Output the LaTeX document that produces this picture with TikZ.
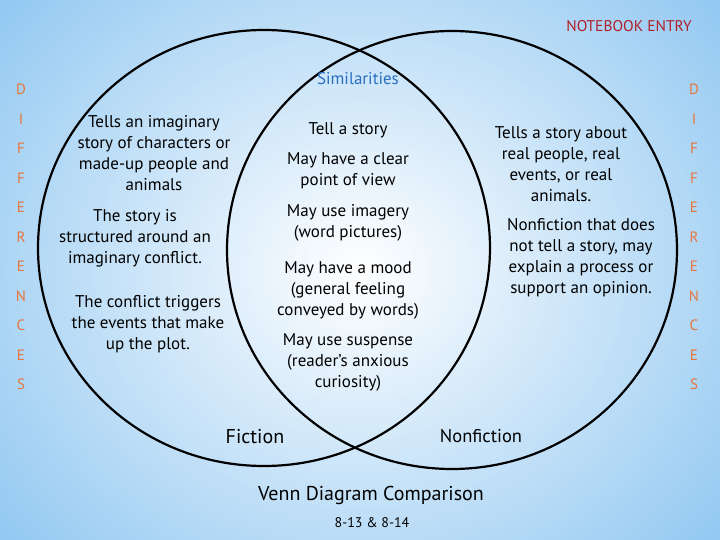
\documentclass[tikz,border=0pt]{standalone}
\usepackage{fontspec}
\setmainfont{PT Sans}
\definecolor{bgblue}{HTML}{72B8EE}
\definecolor{orng}{HTML}{E8743B}
\definecolor{simblue}{HTML}{2A6FBF}
\definecolor{nbred}{HTML}{B0202A}
\begin{document}
\begin{tikzpicture}[x=1pt,y=-1pt,
  txt/.style={align=center,font=\fontsize{17}{21}\selectfont,inner sep=0pt},
  lbl/.style={font=\fontsize{20}{22}\selectfont,inner sep=0pt},
  side/.style={orng,align=center,font=\fontsize{15}{29.5}\selectfont,inner sep=0pt},
  venn/.style={draw=black,line width=2.2pt}]
\useasboundingbox (0,0) rectangle (720,540);
\shade[inner color=white,outer color=bgblue] (-100,-140) rectangle (820,680);
\fill[white,opacity=0.25] (0,0) rectangle (720,540);
\draw[venn] (264,248) ellipse [x radius=226,y radius=218];
\draw[venn] (452,250) ellipse [x radius=225,y radius=219];
\node[font=\fontsize{15.5}{16}\selectfont,text=nbred,inner sep=0pt] (nb) at (629,26) {NOTEBOOK ENTRY};
\node[side] (dl) at (21,237) {D\\I\\F\\F\\E\\R\\E\\N\\C\\E\\S};
\node[side] (dr) at (694,237) {D\\I\\F\\F\\E\\R\\E\\N\\C\\E\\S};
\node[txt,text=simblue] (sim) at (358,79) {Similarities};
\node[txt] (c1) at (348,130) {Tell a story};
\node[txt] (c2) at (348,171) {May have a clear\\point of view};
\node[txt] (c3) at (348,223) {May use imagery\\(word pictures)};
\node[txt] (c4) at (348,290) {May have a mood\\(general feeling\\conveyed by words)};
\node[txt] (c5) at (348,362) {May use suspense\\(reader’s anxious\\curiosity)};
\node[txt] (l1) at (154,153) {Tells an imaginary\\story of characters or\\made-up people and\\animals};
\node[txt] (l2) at (135,238) {The story is\\structured around an\\imaginary conflict.};
\node[txt] (l3) at (148,324) {The conflict triggers\\the events that make\\up the plot.};
\node[txt] (r1) at (561,164) {Tells a story about\\real people, real\\events, or real\\animals.};
\node[txt] (r2) at (581,258) {Nonfiction that does\\not tell a story, may\\explain a process or\\support an opinion.};
\node[lbl] (fic) at (255,437) {Fiction};
\node[font=\fontsize{18.5}{20}\selectfont,inner sep=0pt] (nf) at (481,436) {Nonfiction};
\node[lbl] (title) at (371,495) {Venn Diagram Comparison};
\node[font=\fontsize{14}{16}\selectfont,inner sep=0pt] (sub) at (372,523) {8-13 \& 8-14};
\end{tikzpicture}
\end{document}
